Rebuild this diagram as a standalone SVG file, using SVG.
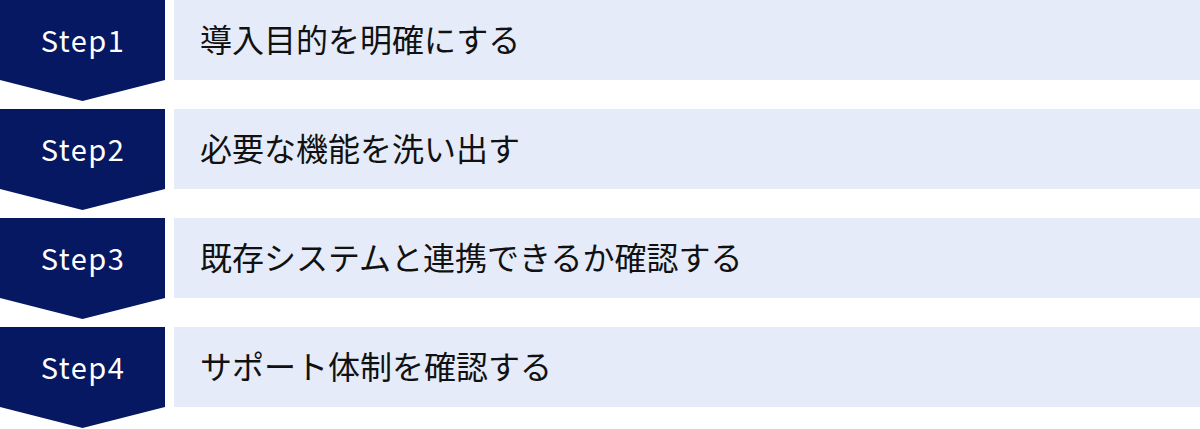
<svg xmlns="http://www.w3.org/2000/svg" width="1200" height="429" viewBox="0 0 1200 429">
<style>
.badge{fill:#051861}
.panel{fill:#E5EBF9}
.step{font-family:"Noto Sans CJK JP","Noto Sans",sans-serif;font-size:29px;font-weight:400;fill:#FFFFFF;letter-spacing:1.5px;text-anchor:middle}
.label{font-family:"Noto Sans CJK JP","Noto Sans",sans-serif;font-size:32px;font-weight:400;fill:#111111}
</style>
<defs>
<path id="chev" d="M0,0 H165 V80 L82.5,101 L0,80 Z"/>
</defs>
<g id="connectors"></g>
<g id="step1">
<use href="#chev" class="badge" x="0" y="0"/>
<rect class="panel" x="174" y="0" width="1026" height="80"/>
<text class="step" x="83" y="51.5">Step1</text>
<text class="label" x="200" y="51.5">導入目的を明確にする</text>
</g>
<g id="step2">
<use href="#chev" class="badge" x="0" y="109"/>
<rect class="panel" x="174" y="109" width="1026" height="80"/>
<text class="step" x="83" y="160.5">Step2</text>
<text class="label" x="200" y="160.5">必要な機能を洗い出す</text>
</g>
<g id="step3">
<use href="#chev" class="badge" x="0" y="218"/>
<rect class="panel" x="174" y="218" width="1026" height="80"/>
<text class="step" x="83" y="269.5">Step3</text>
<text class="label" x="200" y="269.5">既存システムと連携できるか確認する</text>
</g>
<g id="step4">
<use href="#chev" class="badge" x="0" y="327"/>
<rect class="panel" x="174" y="327" width="1026" height="80"/>
<text class="step" x="83" y="378.5">Step4</text>
<text class="label" x="200" y="378.5">サポート体制を確認する</text>
</g>
</svg>
